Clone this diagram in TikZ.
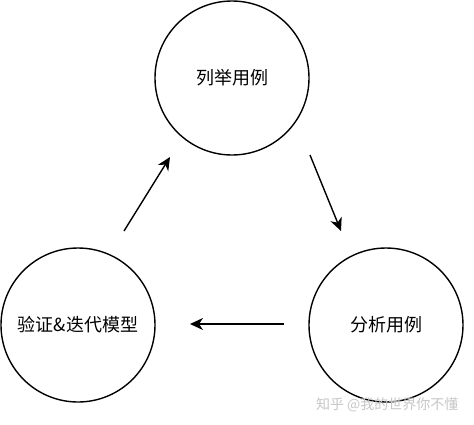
\documentclass[tikz,border=0pt]{standalone}
\usepackage{fontspec}
\setmainfont{Noto Sans CJK SC}
\usetikzlibrary{arrows.meta}
\begin{document}
\begin{tikzpicture}[x=1pt,y=-1pt,
  stage/.style={circle,draw=black,line width=1.4pt,minimum size=154pt,inner sep=0pt,font=\fontsize{18}{21}\selectfont},
  flow/.style={line width=1.4pt,-{Stealth[length=13pt,width=12pt,inset=4pt]}},
  wmark/.style={font=\fontsize{14}{16}\selectfont,text=black!22}]
\useasboundingbox (0,0) rectangle (474,424);
\fill[white] (0,0) rectangle (474,424);
\node[stage] (top) at (232,78) {列举用例};
\node[stage] (left) at (78,325) {验证\&迭代模型};
\node[stage] (right) at (386,325) {分析用例};
\coordinate (a1s) at (124,231);
\coordinate (a1e) at (170,157);
\coordinate (a2s) at (310,155);
\coordinate (a2e) at (341,231);
\coordinate (a3s) at (284,324);
\coordinate (a3e) at (190,324);
\draw[flow] (a1s) -- (a1e);
\draw[flow] (a2s) -- (a2e);
\draw[flow] (a3s) -- (a3e);
\node[wmark,anchor=east] (wm) at (462,405) {知乎 @我的世界你不懂};
\end{tikzpicture}
\end{document}
